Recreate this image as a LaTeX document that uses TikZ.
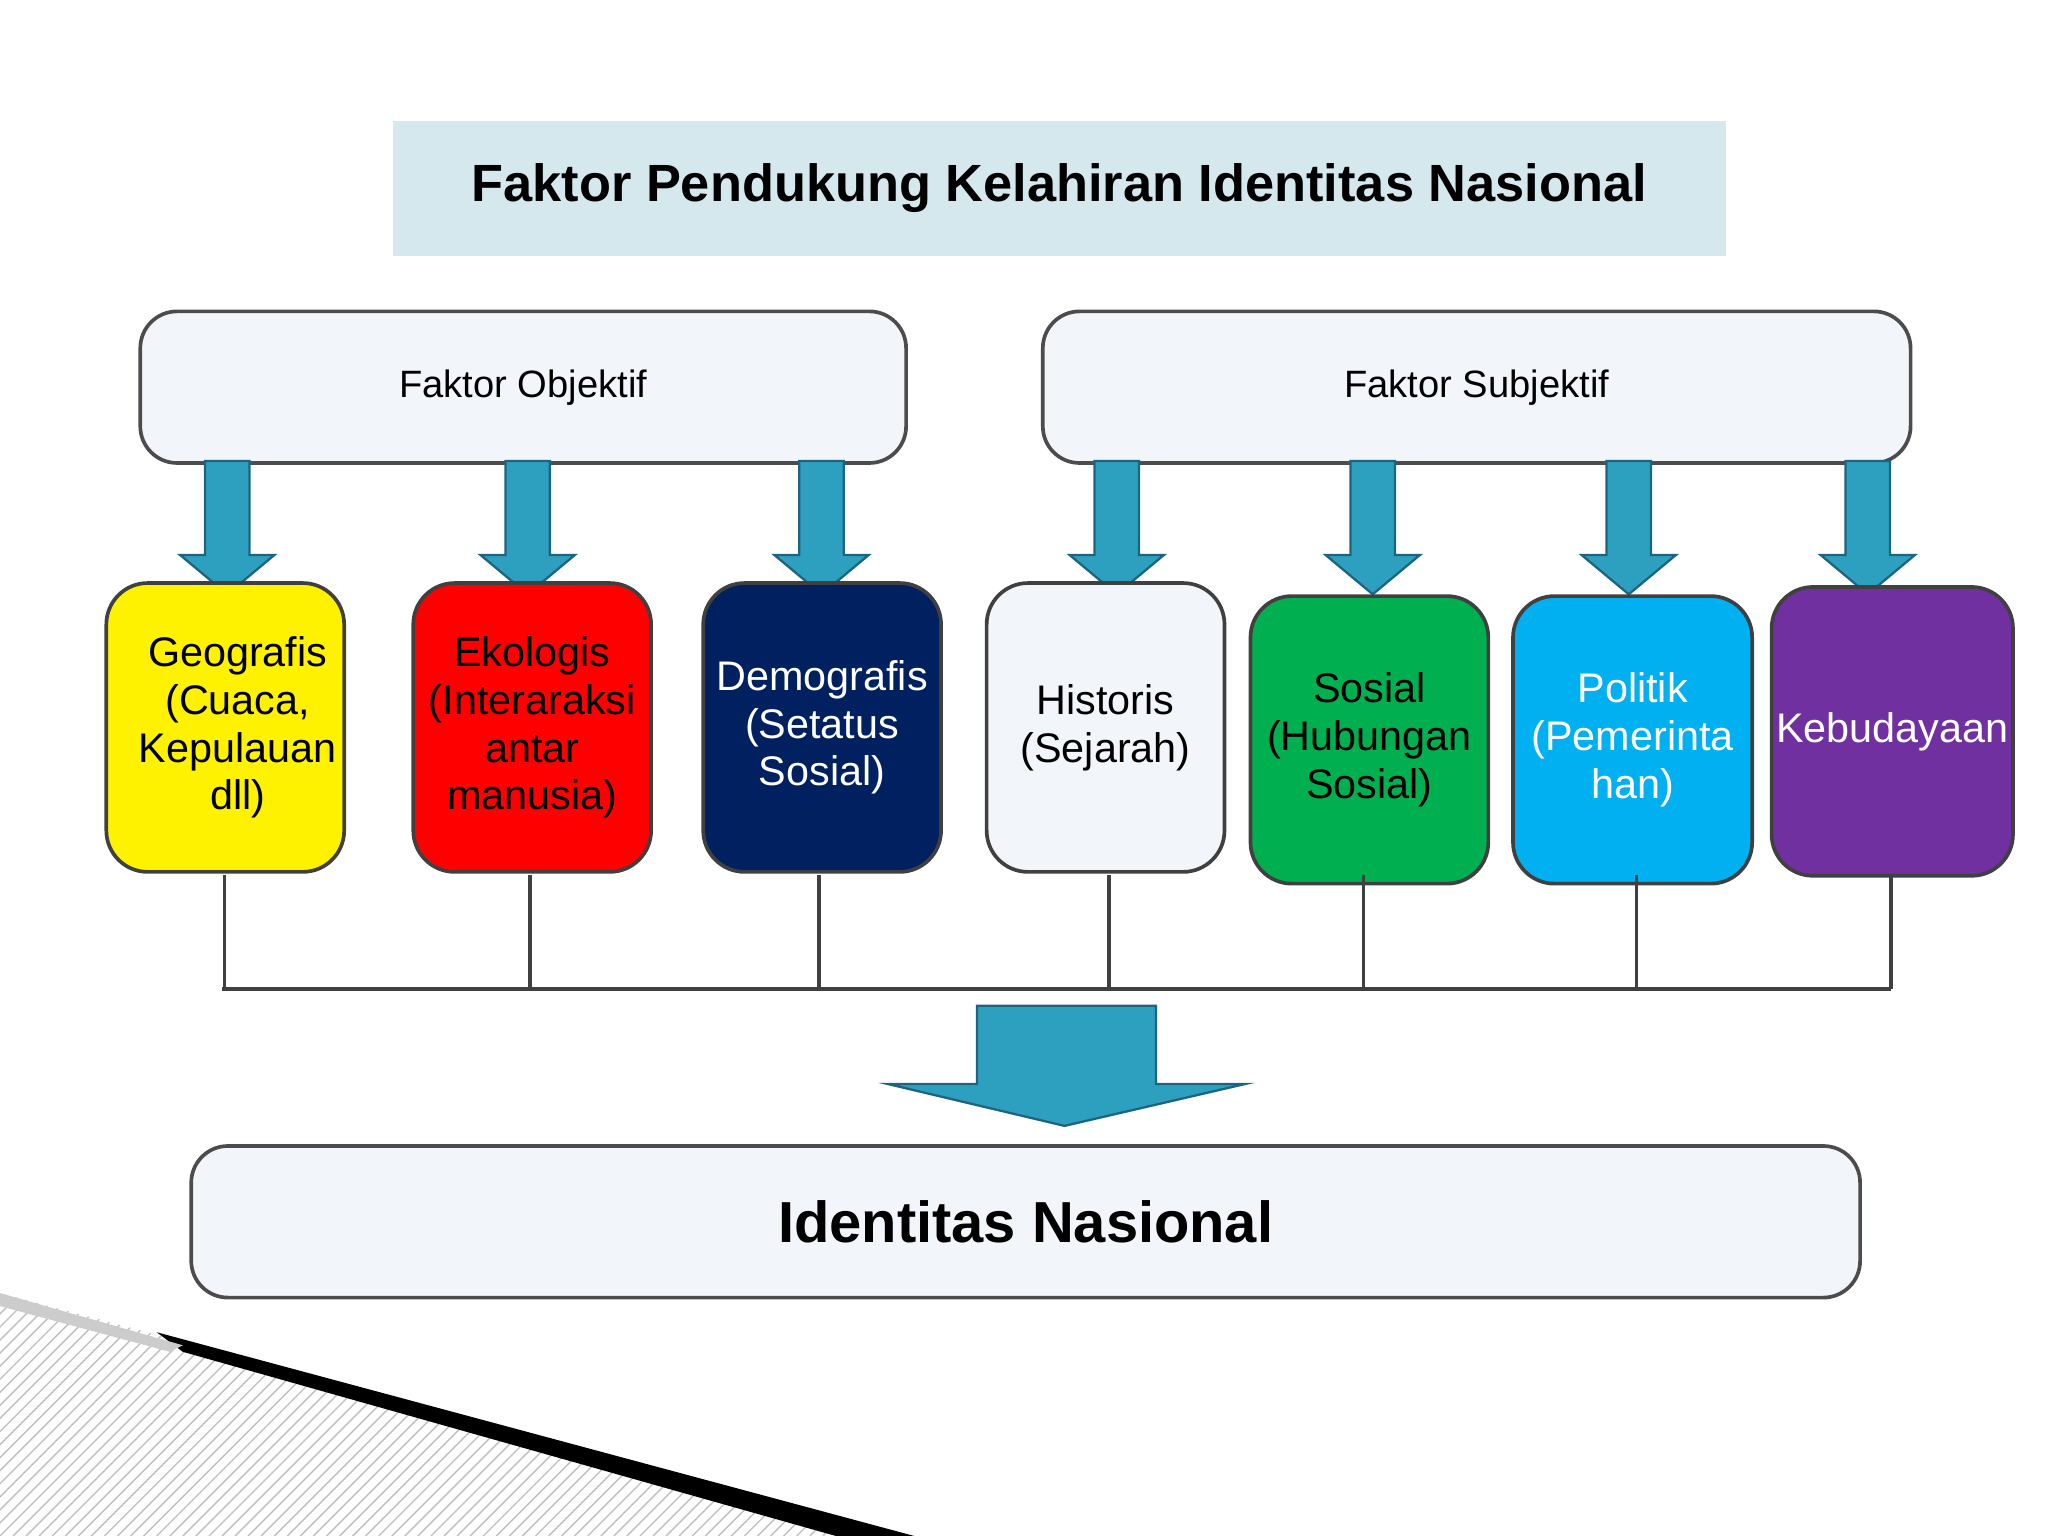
\documentclass[tikz,border=0pt]{standalone}
\usepackage{fontspec}
\setmainfont{Liberation Sans}
\begin{document}
\begin{tikzpicture}[x=0.01cm,y=-0.01cm,
  hdr/.style={draw=black!70,line width=0.8pt,rounded corners=8pt,fill={rgb,255:red,242;green,246;blue,250},font=\fontsize{8.3pt}{10pt}\selectfont},
  cbox/.style={draw=black!75,line width=0.8pt,rounded corners=9pt,align=center,inner sep=1pt,font=\fontsize{9pt}{10.4pt}\selectfont},
  barr/.style={fill={rgb,255:red,45;green,160;blue,192},draw={rgb,255:red,30;green,100;blue,130},line width=0.5pt},
  ln/.style={draw=black!75,line width=0.8pt}]
\useasboundingbox (0,0) rectangle (1568,1176);
% decoration bottom-left
\begin{scope}
\clip (0,990) -- (700,1176) -- (0,1176) -- cycle;
\foreach \i in {-300,-290,...,700}{\draw[gray!50,line width=0.3pt] (\i,1176) -- (\i+200,976);}
\end{scope}
\fill[black] (120,1020) -- (700,1176) -- (640,1176) -- (140,1035) -- cycle;
\fill[gray!40] (0,990) -- (140,1030) -- (130,1035) -- (0,1000) -- cycle;
% title
\node[fill={rgb,255:red,212;green,232;blue,238},minimum width=10.2cm,minimum height=1.03cm,anchor=north west,inner sep=0,font=\bfseries\fontsize{11.4pt}{13pt}\selectfont] (title) at (300,92) {Faktor Pendukung Kelahiran Identitas Nasional};
% headers
\node[hdr,minimum width=5.86cm,minimum height=1.16cm,anchor=north west] (obj) at (106,237) {Faktor Objektif};
\node[hdr,minimum width=6.64cm,minimum height=1.16cm,anchor=north west] (sub) at (797,237) {Faktor Subjektif};
% arrows
\foreach \x/\yb in {174/455,404/455,629/455,855/455,1051/455,1247/455,1430/455}{
  \draw[barr] (\x-17,353) -- (\x+17,353) -- (\x+17,\yb-30) -- (\x+36,\yb-30) -- (\x,\yb) -- (\x-36,\yb-30) -- (\x-17,\yb-30) -- cycle;}
% boxes
\node[cbox,fill=yellow,minimum width=1.82cm,minimum height=2.21cm,anchor=north west] (geo) at (80,445) {\hspace*{0.6em}Geografis\\ \hspace*{0.6em}(Cuaca,\\ \hspace*{0.6em}Kepulauan\\ \hspace*{0.6em}dll)};
\node[cbox,fill=red,minimum width=1.82cm,minimum height=2.21cm,anchor=north west] (eko) at (315,445) {Ekologis\\(Interaraksi\\antar\\manusia)};
\node[cbox,fill={rgb,255:red,0;green,32;blue,96},text=white,minimum width=1.82cm,minimum height=2.21cm,anchor=north west] (dem) at (537,445) {Demografis\\(Setatus\\Sosial)};
\node[cbox,fill={rgb,255:red,242;green,246;blue,250},minimum width=1.82cm,minimum height=2.21cm,anchor=north west] (his) at (754,445) {Historis\\(Sejarah)};
\node[cbox,fill={rgb,255:red,0;green,176;blue,80},minimum width=1.82cm,minimum height=2.2cm,anchor=north west] (sos) at (956,455) {Sosial\\(Hubungan\\Sosial)};
\node[cbox,fill={rgb,255:red,0;green,176;blue,240},text=white,minimum width=1.83cm,minimum height=2.2cm,anchor=north west] (pol) at (1157,455) {Politik\\(Pemerinta\\han)};
\node[cbox,fill={rgb,255:red,112;green,48;blue,160},text=white,minimum width=1.83cm,minimum height=2.21cm,anchor=north west] (keb) at (1355,448) {Kebudayaan};
% connector lines
\coordinate (L) at (170,757); \coordinate (R) at (1448,757);
\draw[ln] (L) -- (R);
\foreach \x in {172,406,627,849,1044,1253,1448}{\draw[ln] (\x,670) -- (\x,757);}
% big arrow
\draw[barr] (748,770) -- (885,770) -- (885,830) -- (953,830) -- (815,862) -- (680,830) -- (748,830) -- cycle;
% result
\node[hdr,minimum width=12.77cm,minimum height=1.16cm,anchor=north west,font=\bfseries\fontsize{12.6pt}{14pt}\selectfont] (id) at (145,876) {Identitas Nasional};
\end{tikzpicture}
\end{document}
